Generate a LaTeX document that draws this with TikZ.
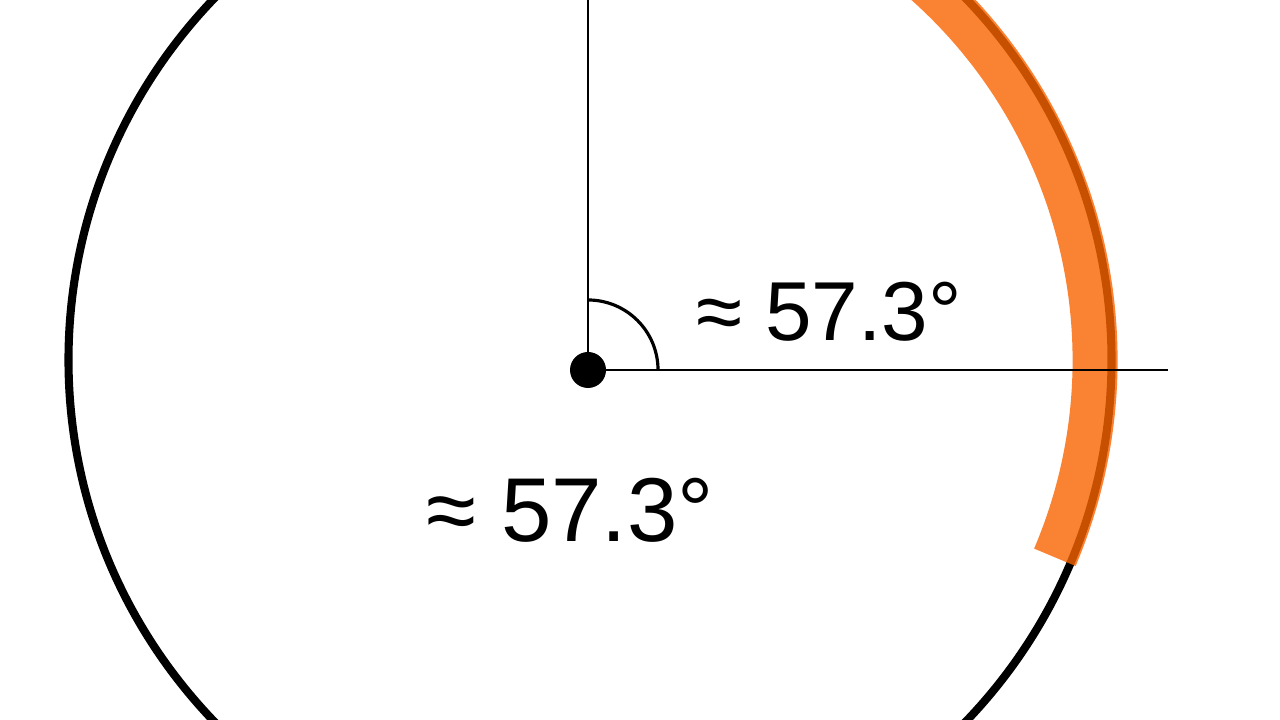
\documentclass[tikz,border=0pt]{standalone}
\usepackage{fontspec}
\setmainfont{Liberation Sans}
\definecolor{arcorange}{RGB}{249,99,0}
\usetikzlibrary{arrows}

\begin{document}
\begin{tikzpicture}[
	dot/.style = {fill,circle,inner sep=0pt,minimum size=0.36cm},
	thin line/.style = {line width=0.6pt},
	deg label/.style = {inner sep=0pt,anchor=center}
	]
	\useasboundingbox (0,0) rectangle (12.8,7.2);
	\clip (0,0) rectangle (12.8,7.2);
	%CERCHIO
	\coordinate (C) at (5.90,3.60);
	\draw[line width=2.3pt] (C) circle (5.215);
	%ARCO DI UN RADIANTE
	\draw[arcorange, opacity=0.8, line width=0.45cm] (C) ++(-23:5.05) arc (-23:62:5.05);
	%RAGGI
	\node[dot] (O) at (5.88,3.50) {};
	\coordinate (top) at (5.88,7.2);
	\coordinate (right) at (11.68,3.50);
	\draw[thin line] (O.center) -- (top);
	\draw[thin line] (O.center) -- (right);
	%ANGOLO
	\draw[line width=0.9pt] (O.center) ++(0.70,0) arc (0:90:0.70);
	%ETICHETTE
	\node[deg label, font=\fontsize{23.8}{26}\selectfont] (a1) at (8.29,4.08) {≈ 57.3°};
	\node[deg label, font=\fontsize{25.8}{28}\selectfont] (a2) at (5.70,2.10) {≈ 57.3°};
\end{tikzpicture}
\end{document}
